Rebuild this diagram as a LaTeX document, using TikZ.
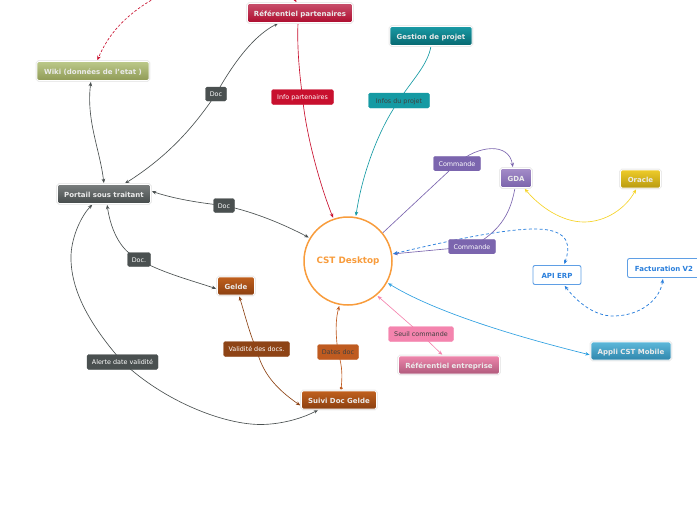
\documentclass[tikz,border=0pt]{standalone}
\usepackage{fontspec}
\setmainfont{DejaVu Sans}
\usetikzlibrary{arrows.meta,backgrounds}
\definecolor{cRed}{HTML}{C8102E}
\definecolor{cTeal}{HTML}{159AA3}
\definecolor{cPur}{HTML}{7B65AE}
\definecolor{cYel}{HTML}{F5D327}
\definecolor{cBlue}{HTML}{2A7FDC}
\definecolor{cSky}{HTML}{2D9FE0}
\definecolor{cPink}{HTML}{F484AE}
\definecolor{cOra}{HTML}{BF5B20}
\definecolor{cBrn}{HTML}{8E4416}
\definecolor{cDark}{HTML}{4A5050}
\definecolor{cCirc}{HTML}{F89C3C}
\definecolor{tRed}{HTML}{C8506C}\definecolor{bRed}{HTML}{AE0C2E}
\definecolor{tWik}{HTML}{BCC98A}\definecolor{bWik}{HTML}{8F9A56}
\definecolor{tPor}{HTML}{7A7E7E}\definecolor{bPor}{HTML}{454B4B}
\definecolor{tGes}{HTML}{1A9AA5}\definecolor{bGes}{HTML}{066870}
\definecolor{tGda}{HTML}{A48CC8}\definecolor{bGda}{HTML}{7A63AB}
\definecolor{tOra}{HTML}{EECB2A}\definecolor{bOra}{HTML}{B89A10}
\definecolor{tApp}{HTML}{5DB8DA}\definecolor{bApp}{HTML}{2F86AC}
\definecolor{tEnt}{HTML}{EE86AC}\definecolor{bEnt}{HTML}{B05A7C}
\definecolor{tBrn}{HTML}{C0601E}\definecolor{bBrn}{HTML}{8B3F10}
\tikzset{
  x=1pt,y=-1pt,
  tbox/.style n args={2}{rectangle,rounded corners=1.6pt,inner sep=0pt,
    top color=#1,bottom color=#2,draw=white,line width=.8pt,
    preaction={draw=black!8,line width=2.6pt},
    text=white!92!black,text height=7.2pt,text depth=0pt,font=\fontsize{7}{8}\selectfont\bfseries},
  lbl/.style={rectangle,rounded corners=1.6pt,inner sep=0pt,fill=#1,draw=#1,line width=.4pt,
    text=white,text height=5.4pt,text depth=0pt,font=\fontsize{6.4}{8}\selectfont},
  api/.style={rectangle,rounded corners=2pt,inner sep=0pt,fill=white,draw=cBlue!75,line width=.9pt,
    text=cBlue,text height=7.2pt,text depth=0pt,font=\fontsize{7}{8}\selectfont\bfseries},
  tipa/.tip={Stealth[length=4.4pt,width=3.6pt]},
  conn/.style={draw=#1,line width=.65pt,-tipa,shorten >=1pt},
  conn2/.style={draw=#1,line width=.65pt,tipa-tipa,shorten >=1pt,shorten <=1pt},
  dconn/.style={draw=#1,line width=.75pt,dash pattern=on 3pt off 2.4pt,tipa-tipa,shorten >=1pt,shorten <=1pt},
}
\begin{document}
\begin{tikzpicture}
\useasboundingbox (0,0) rectangle (697,520);
\clip (0,0) rectangle (697,520);
% main nodes
\node[circle,draw=cCirc,line width=1.5pt,fill=white,minimum size=88pt,inner sep=0pt,text=cCirc,font=\fontsize{8.8}{10}\selectfont\bfseries] (cst) at (348,261) {CST Desktop};
\node[tbox={tRed}{bRed},minimum width=105pt,minimum height=19pt] (rp) at (300,13) {Référentiel partenaires};
\node[tbox={tWik}{bWik},minimum width=112pt,minimum height=19pt] (wiki) at (93,71) {Wiki (données de l'etat )};
\node[tbox={tPor}{bPor},minimum width=93pt,minimum height=19pt] (port) at (104,194) {Portail sous traitant};
\node[tbox={tGes}{bGes},minimum width=82pt,minimum height=19pt] (gest) at (431,36) {Gestion de projet};
\node[tbox={tGda}{bGda},minimum width=31pt,minimum height=19pt] (gda) at (516,178) {GDA};
\node[tbox={tOra}{bOra},minimum width=40pt,minimum height=18pt] (orac) at (640.5,179) {Oracle};
\node[tbox={tApp}{bApp},minimum width=80pt,minimum height=18pt] (appl) at (631,351) {Appli CST Mobile};
\node[tbox={tEnt}{bEnt},minimum width=101pt,minimum height=18pt] (rent) at (449,365) {Référentiel entreprise};
\node[tbox={tBrn}{bBrn},minimum width=75pt,minimum height=18pt] (suiv) at (339,400) {Suivi Doc Gelde};
\node[tbox={tBrn}{bBrn},minimum width=37pt,minimum height=18pt] (geld) at (236,286) {Gelde};
\node[api,minimum width=48pt,minimum height=19pt] (aerp) at (557,275) {API ERP};
\node[api,minimum width=73pt,minimum height=19pt] (fact) at (664,268) {Facturation V2};
% labels
\node[lbl=cDark,minimum width=21pt,minimum height=14pt] (ldoca) at (216,94) {Doc};
\node[lbl=cRed,minimum width=62pt,minimum height=15pt] (linfo) at (302.5,97) {Info partenaires};
\node[lbl=cTeal,text=black!75,minimum width=61pt,minimum height=15pt] (lproj) at (399,100.5) {Infos du projet};
\node[lbl=cPur,minimum width=47pt,minimum height=14.5pt] (lcmda) at (457,163.5) {Commande};
\node[lbl=cPur,minimum width=47pt,minimum height=14.5pt] (lcmdb) at (472,246.5) {Commande};
\node[lbl=cDark,minimum width=21pt,minimum height=14pt] (ldocb) at (224,205.5) {Doc};
\node[lbl=cDark,minimum width=23pt,minimum height=14pt] (ldocc) at (139,259.5) {Doc.};
\node[lbl=cBrn,minimum width=66pt,minimum height=15pt] (lval) at (256.5,349) {Validité des docs.};
\node[lbl=cOra,text=black!75,minimum width=41pt,minimum height=15pt] (ldat) at (338,352) {Dates doc};
\node[lbl=cDark,minimum width=71pt,minimum height=15pt] (lale) at (122.5,362) {Alerte date validité};
\node[lbl=cPink,text=black!75,minimum width=65pt,minimum height=15pt] (lseu) at (421,334) {Seuil commande};
\coordinate (offa) at (155,-2);
\coordinate (offb) at (294,-2);
\begin{scope}[on background layer]
% red
\draw[conn=cRed] ([xshift=-2pt]rp.south) .. controls (297,45) and (299,70) .. (linfo.center) .. controls (306,135) and (320,185) .. (cst.109);
\draw[conn=cRed,dash pattern=on 2.6pt off 1.8pt] (offa) .. controls (125,15) and (108,35) .. ([xshift=4pt]wiki.north);
\draw[conn=cRed,dash pattern=on 2pt off 1pt] (offb) -- ([xshift=-3pt]rp.north);
% teal
\draw[conn=cTeal] (gest.south) .. controls (428,65) and (412,80) .. (lproj.center) .. controls (378,130) and (362,175) .. (cst.80);
% purple
\draw[cPur,line width=.65pt] (cst.39) -- (lcmda.center);
\draw[conn=cPur] (lcmda.center) .. controls (478,145) and (509,142) .. ([xshift=-3pt]gda.north);
\draw[cPur,line width=.65pt] ([xshift=-1pt]gda.south) .. controls (511,210) and (503,230) .. (lcmdb.center);
\draw[conn=cPur] (lcmdb.center) -- (cst.9);
% yellow
\draw[conn2=cYel] ([xshift=8pt]gda.south) .. controls (540,207) and (562,222) .. (584,222) .. controls (606,222) and (626,208) .. ([xshift=-4pt]orac.south);
% blue dashed
\draw[dconn=cBlue] ([xshift=7pt]aerp.north) .. controls (570,248) and (572,229) .. (535,229) .. controls (500,229) and (440,243) .. (cst.9);
\draw[dconn=cBlue] ([xshift=7pt]aerp.south) .. controls (578,303) and (595,316) .. (613,316) .. controls (640,316) and (660,300) .. ([xshift=-1pt]fact.south);
% sky
\draw[conn2=cSky] (cst.-29) .. controls (440,315) and (530,340) .. ([yshift=-4pt]appl.west);
% pink
\draw[conn=cPink] (lseu.center) -- (cst.-50);
\draw[conn=cPink] (lseu.center) -- ([xshift=-6pt]rent.north);
% orange
\draw[conn=cOra] (ldat.center) .. controls (335,330) and (336,318) .. (cst.-101);
\draw[conn=cOra,-{Circle[length=3pt]}] (ldat.center) .. controls (343,368) and (342,378) .. ([xshift=2pt]suiv.north);
% brown
\draw[conn2=cBrn] ([xshift=3pt]geld.south) .. controls (245,315) and (250,335) .. (lval.center) .. controls (262,372) and (275,388) .. ([yshift=-6pt]suiv.west);
% dark
\draw[conn2=cDark] (port.north) .. controls (100,150) and (86,120) .. ([xshift=-2pt]wiki.south);
\draw[conn2=cDark] ([xshift=20pt]port.north) .. controls (170,155) and (195,125) .. (ldoca.center) .. controls (235,60) and (255,35) .. ([xshift=-21pt]rp.south);
\draw[conn=cDark] (ldocb.center) .. controls (200,203) and (175,199) .. ([yshift=3pt]port.east);
\draw[conn=cDark] (ldocb.center) .. controls (255,212) and (285,225) .. (cst.149);
\draw[conn=cDark] (ldocc.center) .. controls (118,250) and (110,225) .. ([xshift=3pt]port.south);
\draw[conn=cDark] (ldocc.center) .. controls (160,272) and (190,280) .. ([yshift=-3pt]geld.west);
\draw[conn=cDark] (lale.center) .. controls (90,325) and (70,290) .. (71,255) .. controls (72,235) and (82,215) .. ([xshift=-11pt]port.south);
\draw[conn=cDark] (lale.center) .. controls (165,402) and (225,425) .. (262,424.5) .. controls (285,424) and (305,417) .. ([xshift=-20pt]suiv.south);
\end{scope}
\end{tikzpicture}
\end{document}
